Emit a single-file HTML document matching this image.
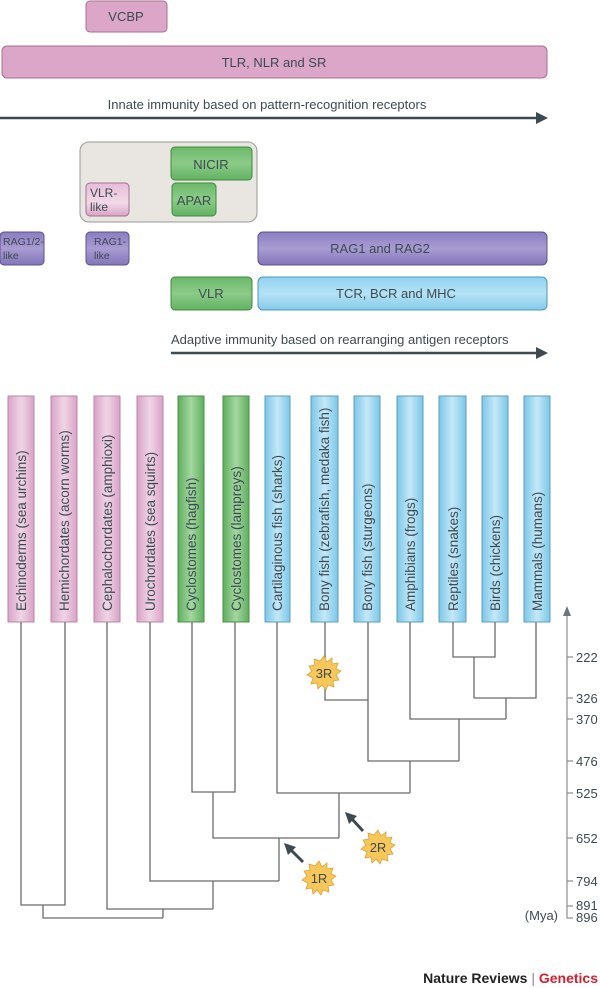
<!DOCTYPE html>
<html><head><meta charset="utf-8"><style>
html,body{margin:0;padding:0;background:#fff;}
svg{display:block;font-family:"Liberation Sans",sans-serif;}
</style></head><body>
<svg width="600" height="988" viewBox="0 0 600 988" xmlns="http://www.w3.org/2000/svg">
<defs>
<linearGradient id="pk" x1="0" x2="1"><stop offset="0" stop-color="#d9a3c6"/><stop offset="0.5" stop-color="#f0d5e6"/><stop offset="1" stop-color="#d9a3c6"/></linearGradient>
<linearGradient id="gr" x1="0" x2="1"><stop offset="0" stop-color="#5fae5f"/><stop offset="0.5" stop-color="#a4d79f"/><stop offset="1" stop-color="#5fae5f"/></linearGradient>
<linearGradient id="bl" x1="0" x2="1"><stop offset="0" stop-color="#7cc7e8"/><stop offset="0.5" stop-color="#c4e8f7"/><stop offset="1" stop-color="#7cc7e8"/></linearGradient>
<linearGradient id="pu" x1="0" y1="0" x2="0" y2="1"><stop offset="0" stop-color="#8b7dc0"/><stop offset="0.5" stop-color="#a89cd2"/><stop offset="1" stop-color="#8375b8"/></linearGradient>
<linearGradient id="blh" x1="0" y1="0" x2="0" y2="1"><stop offset="0" stop-color="#8fd2ef"/><stop offset="0.5" stop-color="#b5e2f5"/><stop offset="1" stop-color="#86cbea"/></linearGradient>
<linearGradient id="grh" x1="0" y1="0" x2="0" y2="1"><stop offset="0" stop-color="#6bb96a"/><stop offset="0.5" stop-color="#8ccb88"/><stop offset="1" stop-color="#62b262"/></linearGradient>
<linearGradient id="pkh" x1="0" y1="0" x2="0" y2="1"><stop offset="0" stop-color="#e6bdd8"/><stop offset="0.6" stop-color="#f2d9e8"/><stop offset="1" stop-color="#d9a3c6"/></linearGradient>
</defs>
<g font-size="13" fill="#3d4a52" text-anchor="middle">
<rect x="86" y="1" width="81" height="31" rx="4" fill="#dba6c8" stroke="#a4728f"/>
<text x="126" y="21">VCBP</text>
<rect x="2" y="46" width="545" height="32" rx="5" fill="#dba6c8" stroke="#a4728f"/>
<text x="274" y="67">TLR, NLR and SR</text>
<text x="267" y="109">Innate immunity based on pattern-recognition receptors</text>
<line x1="0" y1="118" x2="538" y2="118" stroke="#3d4a52" stroke-width="2.5"/>
<polygon points="548,118 536,112 536,124" fill="#3d4a52"/>

<rect x="80" y="142" width="177" height="80" rx="9" fill="#e9e5e1" stroke="#9c9a97"/>
<rect x="171" y="147" width="81" height="33" rx="4" fill="url(#grh)" stroke="#3f8a3f"/>
<text x="211" y="169">NICIR</text>
<rect x="172" y="183" width="44" height="33" rx="4" fill="url(#grh)" stroke="#3f8a3f"/>
<text x="194" y="205">APAR</text>
<rect x="86" y="183" width="43" height="33" rx="4" fill="url(#pkh)" stroke="#a4728f"/>
<text x="90" y="197" text-anchor="start" font-size="12">VLR-</text>
<text x="90" y="211" text-anchor="start" font-size="12">like</text>

<rect x="0" y="232" width="44" height="33" rx="4" fill="url(#pu)" stroke="#5e5190"/>
<text x="3" y="245" text-anchor="start" font-size="10.5">RAG1/2-</text>
<text x="3" y="259" text-anchor="start" font-size="10.5">like</text>
<rect x="86" y="232" width="43" height="33" rx="4" fill="url(#pu)" stroke="#5e5190"/>
<text x="94" y="245" text-anchor="start" font-size="10.5">RAG1-</text>
<text x="94" y="259" text-anchor="start" font-size="10.5">like</text>
<rect x="258" y="232" width="289" height="33" rx="5" fill="url(#pu)" stroke="#5e5190"/>
<text x="380" y="253">RAG1 and RAG2</text>
<rect x="171" y="277" width="81" height="33" rx="4" fill="url(#grh)" stroke="#3f8a3f"/>
<text x="211" y="298">VLR</text>
<rect x="258" y="277" width="289" height="33" rx="5" fill="url(#blh)" stroke="#4d97b8"/>
<text x="396" y="298">TCR, BCR and MHC</text>
<text x="171" y="344" text-anchor="start">Adaptive immunity based on rearranging antigen receptors</text>
<line x1="171" y1="353" x2="538" y2="353" stroke="#3d4a52" stroke-width="2.5"/>
<polygon points="548,353 536,347 536,359" fill="#3d4a52"/>
</g>

<g font-size="13.5" fill="#3d4a52" stroke-width="1">
<rect x="8" y="396" width="26" height="226" fill="url(#pk)" stroke="#b587a5"/>
<rect x="51" y="396" width="26" height="226" fill="url(#pk)" stroke="#b587a5"/>
<rect x="94" y="396" width="26" height="226" fill="url(#pk)" stroke="#b587a5"/>
<rect x="137" y="396" width="26" height="226" fill="url(#pk)" stroke="#b587a5"/>
<rect x="178" y="396" width="26" height="226" fill="url(#gr)" stroke="#4a904a"/>
<rect x="223" y="396" width="26" height="226" fill="url(#gr)" stroke="#4a904a"/>
<rect x="265" y="396" width="25" height="226" fill="url(#bl)" stroke="#5a9fc0"/>
<rect x="311" y="396" width="27" height="226" fill="url(#bl)" stroke="#5a9fc0"/>
<rect x="354" y="396" width="26" height="226" fill="url(#bl)" stroke="#5a9fc0"/>
<rect x="397" y="396" width="26" height="226" fill="url(#bl)" stroke="#5a9fc0"/>
<rect x="439" y="396" width="27" height="226" fill="url(#bl)" stroke="#5a9fc0"/>
<rect x="482" y="396" width="26" height="226" fill="url(#bl)" stroke="#5a9fc0"/>
<rect x="524" y="396" width="26" height="226" fill="url(#bl)" stroke="#5a9fc0"/>
<g text-anchor="start">
<text transform="translate(26,611) rotate(-90)">Echinoderms (sea urchins)</text>
<text transform="translate(69,611) rotate(-90)">Hemichordates (acorn worms)</text>
<text transform="translate(112,611) rotate(-90)">Cephalochordates (amphioxi)</text>
<text transform="translate(155,611) rotate(-90)">Urochordates (sea squirts)</text>
<text transform="translate(196,611) rotate(-90)">Cyclostomes (hagfish)</text>
<text transform="translate(241,611) rotate(-90)">Cyclostomes (lampreys)</text>
<text transform="translate(282,611) rotate(-90)">Cartilaginous fish (sharks)</text>
<text transform="translate(329,611) rotate(-90)">Bony fish (zebrafish, medaka fish)</text>
<text transform="translate(372,611) rotate(-90)">Bony fish (sturgeons)</text>
<text transform="translate(415,611) rotate(-90)">Amphibians (frogs)</text>
<text transform="translate(458,611) rotate(-90)">Reptiles (snakes)</text>
<text transform="translate(500,611) rotate(-90)">Birds (chickens)</text>
<text transform="translate(542,611) rotate(-90)">Mammals (humans)</text>
</g>
</g>

<g fill="none" stroke="#6b6b6b" stroke-width="1.3">
<path d="M453,622V657H495V622M474,657V698"/>
<path d="M474,698H536V622M506,698V719"/>
<path d="M410,622V719H506M459,719V761"/>
<path d="M325,622V700H368M368,622V761H459M410,761V793"/>
<path d="M277,622V793H410M339,793V838"/>
<path d="M192,622V792H235V622M213,792V838H339M279,838V881"/>
<path d="M150,622V881H279M213,881V909"/>
<path d="M107,622V909H213M163,909V918"/>
<path d="M21,622V905H65V622M43,905V918H163"/>
</g>

<g stroke="#8a8f94" stroke-width="1.2" fill="none">
<path d="M567,612V918H573"/>
<path d="M567,657H573M567,698H573M567,719H573M567,761H573M567,793H573M567,838H573M567,881H573M567,906H573"/>
</g>
<polygon points="567,606 563,616 571,616" fill="#6b7680"/>
<g font-size="13" fill="#3d4a52">
<text x="576" y="662">222</text>
<text x="576" y="703">326</text>
<text x="576" y="724">370</text>
<text x="576" y="766">476</text>
<text x="576" y="798">525</text>
<text x="576" y="843">652</text>
<text x="576" y="886">794</text>
<text x="576" y="910">891</text>
<text x="576" y="922">896</text>
<text x="558" y="920" text-anchor="end">(Mya)</text>
</g>

<g fill="#f8c75a" stroke="#d9a23a" stroke-width="0.8">
<polygon points="0,-17 3,-11 8,-15 8,-9 14,-10 12,-4 17,-2 12,2 15,7 9,8 10,14 4,12 2,17 -2,12 -6,16 -7,10 -13,11 -11,5 -17,2 -12,-2 -15,-7 -9,-8 -10,-14 -4,-12" transform="translate(324,673)"/>
<polygon points="0,-17 3,-11 8,-15 8,-9 14,-10 12,-4 17,-2 12,2 15,7 9,8 10,14 4,12 2,17 -2,12 -6,16 -7,10 -13,11 -11,5 -17,2 -12,-2 -15,-7 -9,-8 -10,-14 -4,-12" transform="translate(378,847)"/>
<polygon points="0,-17 3,-11 8,-15 8,-9 14,-10 12,-4 17,-2 12,2 15,7 9,8 10,14 4,12 2,17 -2,12 -6,16 -7,10 -13,11 -11,5 -17,2 -12,-2 -15,-7 -9,-8 -10,-14 -4,-12" transform="translate(319,878)"/>
</g>
<g font-size="13" fill="#3d4a52" text-anchor="middle">
<text x="324" y="678">3R</text>
<text x="378" y="852">2R</text>
<text x="319" y="883">1R</text>
</g>
<g stroke="#3d4a52" stroke-width="3" fill="#3d4a52">
<line x1="363" y1="831" x2="352" y2="819"/>
<polygon points="345,812 357,816 349,824" stroke="none"/>
<line x1="303" y1="862" x2="291" y2="850"/>
<polygon points="284,843 296,847 288,855" stroke="none"/>
</g>

<text x="598" y="983" text-anchor="end" font-size="14" font-weight="bold" fill="#222">Nature Reviews <tspan fill="#888" font-weight="normal">|</tspan> <tspan fill="#d6202e">Genetics</tspan></text>
</svg>
</body></html>
